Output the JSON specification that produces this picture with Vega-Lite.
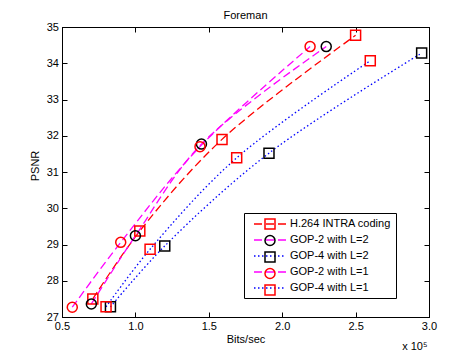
{
  "$schema": "https://vega.github.io/schema/vega-lite/v6.json",
  "width": 367,
  "height": 290,
  "autosize": {"type": "none"},
  "padding": {"left": 62, "top": 27, "right": 45, "bottom": 38},
  "background": "white",
  "title": {"text": "Foreman", "fontSize": 11, "font": "Liberation Sans", "fontWeight": "normal", "color": "black", "offset": 0},
  "config": {
    "view": {"stroke": "black", "strokeWidth": 1},
    "font": "Liberation Sans",
    "axis": {"grid": false, "domainColor": "black", "tickColor": "black", "labelColor": "black", "titleColor": "black", "labelFontSize": 11, "titleFontSize": 11, "titleFontWeight": "normal", "tickSize": -5, "labelFont": "Liberation Sans", "titleFont": "Liberation Sans"}
  },
  "data": {"values": [
    {"series": "H.264 INTRA coding", "x": 0.71, "y": 27.50},
    {"series": "H.264 INTRA coding", "x": 1.03, "y": 29.37},
    {"series": "H.264 INTRA coding", "x": 1.59, "y": 31.90},
    {"series": "H.264 INTRA coding", "x": 2.50, "y": 34.77},
    {"series": "GOP-2 with L=2", "x": 0.70, "y": 27.36},
    {"series": "GOP-2 with L=2", "x": 1.00, "y": 29.24},
    {"series": "GOP-2 with L=2", "x": 1.45, "y": 31.77},
    {"series": "GOP-2 with L=2", "x": 2.30, "y": 34.46},
    {"series": "GOP-4 with L=2", "x": 0.83, "y": 27.28},
    {"series": "GOP-4 with L=2", "x": 1.20, "y": 28.96},
    {"series": "GOP-4 with L=2", "x": 1.91, "y": 31.52},
    {"series": "GOP-4 with L=2", "x": 2.95, "y": 34.28},
    {"series": "GOP-2 with L=1", "x": 0.57, "y": 27.27},
    {"series": "GOP-2 with L=1", "x": 0.90, "y": 29.06},
    {"series": "GOP-2 with L=1", "x": 1.44, "y": 31.70},
    {"series": "GOP-2 with L=1", "x": 2.19, "y": 34.46},
    {"series": "GOP-4 with L=1", "x": 0.80, "y": 27.28},
    {"series": "GOP-4 with L=1", "x": 1.10, "y": 28.87},
    {"series": "GOP-4 with L=1", "x": 1.69, "y": 31.39},
    {"series": "GOP-4 with L=1", "x": 2.60, "y": 34.07}
  ]},
  "resolve": {"axis": {"x": "independent", "y": "independent"}, "legend": {"stroke": "independent", "shape": "independent"}},
  "layer": [
    {
      "mark": {"type": "line", "interpolate": "catmull-rom", "strokeWidth": 1.3},
      "encoding": {
        "x": {"field": "x", "type": "quantitative", "scale": {"domain": [0.5, 3], "nice": false, "zero": false},
          "axis": {"orient": "bottom", "values": [0.5, 1, 1.5, 2, 2.5, 3], "title": "Bits/sec", "labelPadding": 8, "titlePadding": 2, "labelFlush": false}},
        "y": {"field": "y", "type": "quantitative", "scale": {"domain": [27, 35], "nice": false, "zero": false},
          "axis": {"orient": "left", "values": [27, 28, 29, 30, 31, 32, 33, 34, 35], "title": "PSNR", "labelPadding": 8.5, "titlePadding": 6, "titleY": 138.5, "labelFlush": false}},
        "color": {"field": "series", "type": "nominal",
          "scale": {"domain": ["H.264 INTRA coding", "GOP-2 with L=2", "GOP-4 with L=2", "GOP-2 with L=1", "GOP-4 with L=1"], "range": ["#ff0000", "#ff00ff", "#0000ff", "#ff00ff", "#0000ff"]},
          "legend": {"title": null, "orient": "none", "legendX": 182, "legendY": 186, "padding": 5, "rowPadding": 5, "strokeColor": "black", "fillColor": "white", "labelFontSize": 11, "labelColor": "black", "symbolType": "M-3.2,0H3.2", "symbolSize": 100, "symbolStrokeWidth": 1.3, "symbolOffset": 15, "labelOffset": 14}},
        "strokeDash": {"field": "series", "type": "nominal",
          "scale": {"domain": ["H.264 INTRA coding", "GOP-2 with L=2", "GOP-4 with L=2", "GOP-2 with L=1", "GOP-4 with L=1"], "range": [[8, 4], [8, 4], [1.5, 2.5], [8, 4], [1.5, 2.5]]},
          "legend": {"title": null, "orient": "none", "legendX": 182, "legendY": 186}}
      }
    },
    {
      "mark": {"type": "point", "filled": false, "size": 100, "strokeWidth": 1.5, "opacity": 1},
      "encoding": {
        "x": {"field": "x", "type": "quantitative", "scale": {"domain": [0.5, 3], "nice": false, "zero": false},
          "axis": {"orient": "top", "values": [0.5, 1, 1.5, 2, 2.5, 3], "labels": false, "title": "x 10⁵", "titleX": 365, "titleY": 322, "titleAlign": "right", "titleBaseline": "alphabetic", "titleAnchor": null}},
        "y": {"field": "y", "type": "quantitative", "scale": {"domain": [27, 35], "nice": false, "zero": false},
          "axis": {"orient": "right", "values": [27, 28, 29, 30, 31, 32, 33, 34, 35], "labels": false, "title": null}},
        "stroke": {"field": "series", "type": "nominal",
          "scale": {"domain": ["H.264 INTRA coding", "GOP-2 with L=2", "GOP-4 with L=2", "GOP-2 with L=1", "GOP-4 with L=1"], "range": ["#ff0000", "#000000", "#000000", "#ff0000", "#ff0000"]},
          "legend": {"title": null, "orient": "none", "legendX": 182, "legendY": 186, "padding": 5, "rowPadding": 0.5, "labelFontSize": 11, "labelOpacity": 0, "symbolSize": 100, "symbolStrokeWidth": 1.5, "symbolOffset": 15, "labelOffset": 14, "symbolFillColor": "transparent"}},
        "shape": {"field": "series", "type": "nominal",
          "scale": {"domain": ["H.264 INTRA coding", "GOP-2 with L=2", "GOP-4 with L=2", "GOP-2 with L=1", "GOP-4 with L=1"], "range": ["square", "circle", "square", "circle", "square"]},
          "legend": {"title": null, "orient": "none", "legendX": 182, "legendY": 186}}
      }
    }
  ]
}
